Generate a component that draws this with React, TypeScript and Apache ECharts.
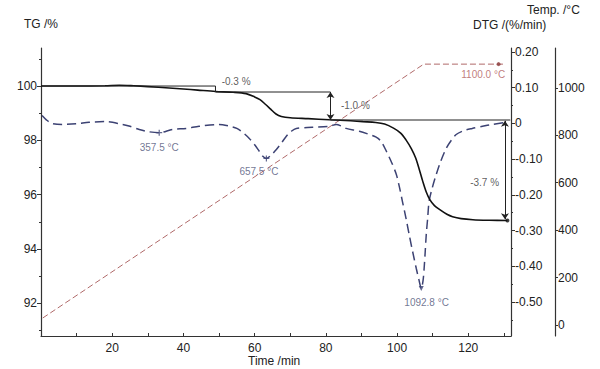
import React, { useEffect, useRef } from "react";
import * as echarts from "echarts";

// ---- axis ticks / labels ----
const timeTicks = [10, 20, 30, 40, 50, 60, 70, 80, 90, 100, 110, 120, 130];
const timeLabels = [20, 40, 60, 80, 100, 120];
const tgLabels = [92, 94, 96, 98, 100];
const tgMinor = [91, 93, 95, 97, 99, 101];
const dtgLabels = [0.2, 0.1, 0, -0.1, -0.2, -0.3, -0.4, -0.5];
const dtgMinor = [0.15, 0.05, -0.05, -0.15, -0.25, -0.35, -0.45, -0.55];
const tempLabels = [0, 200, 400, 600, 800, 1000];

// ---- series values [time (min), value] ----
const tgData = [
  [0, 100.0], [10, 100.0], [18, 100.01], [22, 100.03], [26, 100.01], [30, 99.98],
  [36, 99.93], [40, 99.89], [44, 99.85], [49, 99.8], [54, 99.77], [57.6, 99.72],
  [60, 99.6], [61.5, 99.5], [63, 99.33], [64.5, 99.15], [66, 98.97], [67.5, 98.88],
  [70, 98.83], [75, 98.8], [81, 98.76], [87, 98.72], [90.4, 98.69], [94, 98.66],
  [96.5, 98.6], [99, 98.45], [101, 98.27], [102.5, 98.02], [104, 97.7], [105.2, 97.36],
  [106.2, 96.95], [107.2, 96.5], [108.2, 96.1], [109.2, 95.82], [110.5, 95.6],
  [112, 95.45], [114, 95.28], [115.6, 95.19], [118, 95.12], [121.3, 95.08],
  [126, 95.06], [131, 95.05],
];

const dtgData = [
  [0.3, 0.022], [1.5, 0.01], [3, 0.0], [6, -0.003], [10, -0.001], [13.5, 0.003],
  [18.3, 0.005], [22.8, -0.003], [25, -0.008], [27.6, -0.017], [30, -0.023],
  [33.2, -0.026], [36.9, -0.017], [40.8, -0.014], [44.4, -0.008], [50, -0.003],
  [53, -0.008], [55, -0.014], [57, -0.028], [58.5, -0.042], [60, -0.06], [61.3, -0.078],
  [62.3, -0.092], [63.3, -0.098], [64.5, -0.09], [66.1, -0.073], [67.5, -0.055],
  [68.9, -0.036], [70.3, -0.022], [71.7, -0.014], [76.2, -0.011], [81, -0.008],
  [82.9, -0.003], [84.5, -0.008], [85.7, -0.014], [89.4, -0.022], [92.2, -0.031],
  [94, -0.038], [95.5, -0.05], [97, -0.078], [98.5, -0.11], [99.8, -0.143],
  [100.7, -0.18], [101.5, -0.218], [102.5, -0.265], [103.4, -0.311], [104.4, -0.36],
  [105.4, -0.406], [106.2, -0.44], [106.8, -0.462], [107.3, -0.44], [107.6, -0.406],
  [107.9, -0.36], [108.2, -0.311], [108.6, -0.265], [109, -0.218], [109.9, -0.18],
  [111, -0.143], [112.3, -0.105], [113.8, -0.07], [115.2, -0.048], [116.6, -0.031],
  [118.8, -0.02], [121.1, -0.014], [124, -0.008], [126.7, -0.003], [130.7, 0.003],
];

const tempData = [[0.5, 30], [107.5, 1100], [130, 1100]];

// ---- annotations ----
const stepLine1 = [[0, 100], [49, 100], [49, 99.78], [81.3, 99.78]];
const stepLine2 = [[81.3, 98.75], [131.8, 98.75]];
const arrow1 = [[81.3, 99.78], [81.3, 98.75]];
const arrow2 = [[130.3, 98.72], [130.3, 95.1]];
const tgTexts = [
  { t: 54.8, v: 100.15, text: "-0.3 %" },
  { t: 88.3, v: 99.3, text: "-1.0 %" },
  { t: 124.6, v: 96.44, text: "-3.7 %" },
];
const dtgPeaks = [
  { t: 33.2, v: -0.026, text: "357.5 °C", lt: 33.2, lv: -0.067 },
  { t: 63.3, v: -0.098, text: "657.5 °C", lt: 61.2, lv: -0.134 },
  { t: 106.8, v: -0.462, text: "1092.8 °C", lt: 108.3, lv: -0.502 },
];
const tempText = { t: 124.2, v: 1055, text: "1100.0 °C" };

const FONT = "Liberation Sans, Arial, sans-serif";
const AX = "#333";

export default function App() {
  const ref = useRef<HTMLDivElement>(null);
  useEffect(() => {
    if (!ref.current) return;
    const chart = echarts.init(ref.current, null, { renderer: "svg" });
    const tgMin = 90.8, tgMax = 101.4;
    const dMin = -0.595, dMax = 0.211;
    const tMin = -46, tMax = 1168;
    const textSeries = (data: any[], yIndex: number, color: string) => ({
      type: "scatter",
      yAxisIndex: yIndex,
      symbolSize: 1,
      silent: true,
      itemStyle: { color: "rgba(0,0,0,0)" },
      label: {
        show: true,
        position: "inside",
        color,
        fontSize: 10,
        fontFamily: FONT,
        formatter: (p: any) => p.data.name,
      },
      data: data.map((d) => ({ name: d.text, value: [d.lt ?? d.t, d.lv ?? d.v] })),
      z: 5,
    });
    chart.setOption({
      animation: false,
      textStyle: { fontFamily: FONT },
      grid: { left: 41, right: 89, top: 48, bottom: 33 },
      xAxis: {
        type: "value",
        min: 0,
        max: 132,
        axisLine: { show: true, onZero: false, lineStyle: { color: AX, width: 1.2 } },
        axisTick: { show: true, inside: true, length: 3, customValues: timeTicks, lineStyle: { color: AX } },
        axisLabel: { customValues: timeLabels, color: "#222", fontSize: 12, margin: 6 },
        splitLine: { show: false },
      },
      yAxis: [
        {
          type: "value", position: "left", min: tgMin, max: tgMax,
          axisLine: { show: true, lineStyle: { color: AX, width: 1.2 } },
          axisTick: { show: true, length: 4, customValues: tgLabels, lineStyle: { color: AX } },
          axisLabel: { customValues: tgLabels, color: "#222", fontSize: 12, margin: 4 },
          splitLine: { show: false },
        },
        {
          type: "value", position: "right", offset: 0, min: dMin, max: dMax,
          axisLine: { show: true, lineStyle: { color: AX, width: 1.2 } },
          axisTick: { show: true, length: 4, customValues: dtgLabels, lineStyle: { color: AX } },
          axisLabel: {
            customValues: dtgLabels, color: "#222", fontSize: 12, margin: 4,
            formatter: (v: number) => (Math.abs(v) < 1e-9 ? "0" : v.toFixed(2)),
          },
          splitLine: { show: false },
        },
        {
          type: "value", position: "right", offset: 44, min: tMin, max: tMax,
          axisLine: { show: true, lineStyle: { color: AX, width: 1.2 } },
          axisTick: { show: true, length: 3, customValues: tempLabels, lineStyle: { color: AX } },
          axisLabel: {
            customValues: tempLabels, color: "#222", fontSize: 12, margin: 3,
            formatter: (v: number) => String(Math.round(v)),
          },
          splitLine: { show: false },
        },
        {
          type: "value", position: "left", min: tgMin, max: tgMax,
          axisLine: { show: false },
          axisTick: { show: true, length: 2, customValues: tgMinor, lineStyle: { color: AX } },
          axisLabel: { show: false },
          splitLine: { show: false },
        },
        {
          type: "value", position: "right", offset: 0, min: dMin, max: dMax,
          axisLine: { show: false },
          axisTick: { show: true, length: 2, customValues: dtgMinor, lineStyle: { color: AX } },
          axisLabel: { show: false },
          splitLine: { show: false },
        },
      ],
      graphic: [
        { type: "text", left: 24, top: 18, style: { text: "TG /%", fontSize: 12, fontFamily: FONT, fill: "#222" } },
        { type: "text", left: 473, top: 19, style: { text: "DTG /(%/min)", fontSize: 12, fontFamily: FONT, fill: "#222" } },
        { type: "text", left: 527, top: 4, style: { text: "Temp. /°C", fontSize: 12, fontFamily: FONT, fill: "#222" } },
        { type: "text", left: 248, top: 355, style: { text: "Time /min", fontSize: 12, fontFamily: FONT, fill: "#222" } },
      ],
      series: [
        {
          name: "Temp", type: "line", yAxisIndex: 2, data: tempData, showSymbol: false, silent: true,
          lineStyle: { color: "#b06a6a", width: 1, type: [6, 3] }, z: 1,
        },
        {
          name: "TG", type: "line", yAxisIndex: 0, data: tgData, smooth: 0.3, showSymbol: false, silent: true,
          lineStyle: { color: "#111", width: 1.6 }, z: 3,
        },
        {
          name: "DTG", type: "line", yAxisIndex: 1, data: dtgData, smooth: 0.3, showSymbol: false, silent: true,
          lineStyle: { color: "#3c4273", width: 1.5, type: [9, 5] }, z: 2,
        },
        {
          name: "steps1", type: "line", yAxisIndex: 0, data: stepLine1, showSymbol: false, silent: true,
          lineStyle: { color: "#222", width: 1 }, z: 4,
        },
        {
          name: "steps2", type: "line", yAxisIndex: 0, data: stepLine2, showSymbol: false, silent: true,
          lineStyle: { color: "#222", width: 1.2 }, z: 4,
          markLine: {
            silent: true,
            symbol: ["arrow", "arrow"],
            symbolSize: 6,
            label: { show: false },
            lineStyle: { color: "#222", width: 1, type: "solid" },
            data: [
              [{ coord: arrow1[0] }, { coord: arrow1[1] }],
              [{ coord: arrow2[0] }, { coord: arrow2[1] }],
            ],
          },
        },
        {
          name: "peaks", type: "scatter", yAxisIndex: 1, silent: true,
          symbol: "path://M4,0h2v10h-2zM0,4h10v2h-10z", symbolSize: 6,
          itemStyle: { color: "#3c4273" },
          data: dtgPeaks.slice(0, 2).map((p) => [p.t, p.v]), z: 5,
        },
        {
          name: "peakArrow", type: "scatter", yAxisIndex: 1, silent: true,
          symbol: "triangle", symbolRotate: 180, symbolSize: 5,
          itemStyle: { color: "#3c4273" },
          data: dtgPeaks.slice(2).map((p) => [p.t, p.v]), z: 5,
        },
        {
          name: "tgEnd", type: "scatter", yAxisIndex: 0, silent: true, symbol: "circle", symbolSize: 4,
          itemStyle: { color: "#111" }, data: [tgData[tgData.length - 1]], z: 5,
        },
        {
          name: "tempEnd", type: "scatter", yAxisIndex: 2, silent: true, symbol: "circle", symbolSize: 4,
          itemStyle: { color: "#8a3a3a" }, data: [[128.5, 1100]], z: 5,
        },
        textSeries(tgTexts, 0, "#333"),
        textSeries(dtgPeaks, 1, "#4d5378"),
        textSeries([tempText], 2, "#b05a5a"),
      ],
    });
    return () => chart.dispose();
  }, []);
  return <div ref={ref} style={{ width: 600, height: 369, position: "absolute", left: 0, top: 0 }} />;
}
